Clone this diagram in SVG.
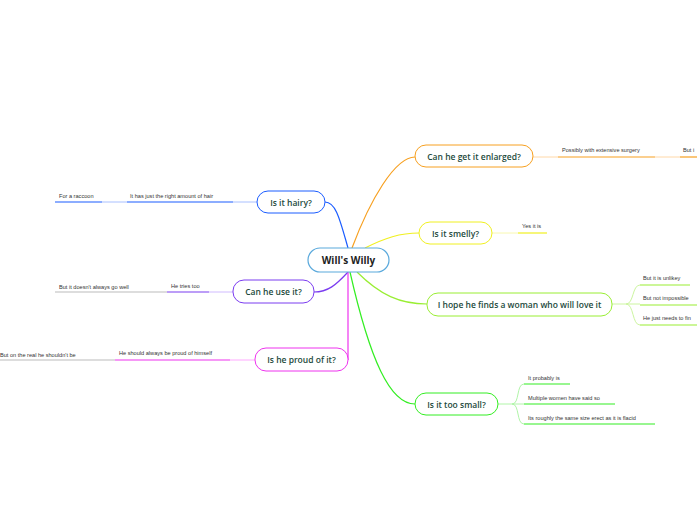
<svg xmlns="http://www.w3.org/2000/svg" width="697" height="520" viewBox="0 0 697 520">
<style>
.n{fill:#fff;stroke-width:1}
.t{font-family:"Open Sans","Noto Sans",sans-serif;font-size:8.5px;font-weight:600;fill:#1d4a3c;text-anchor:middle}
.s{font-family:"Liberation Sans",Arial,sans-serif;font-size:5.6px;fill:#333}
.c{fill:none;stroke-width:1.2}
</style>
<rect width="697" height="520" fill="#fff"/>
<g id="connectors">
<path class="c" d="M348,248 C340,220 336,202 325,202" stroke="#1a5cff"/>
<path class="c" d="M348,272 C336,285 328,292 314,292" stroke="#7b3cf0"/>
<path class="c" d="M348,272 L348,360" stroke="#ee33ee"/>
<path class="c" d="M352,248 C370,200 395,157 415,157" stroke="#f7a020"/>
<path class="c" d="M365,248 C385,238 400,233 419,233" stroke="#f0f020"/>
<path class="c" d="M357,272 C380,295 400,304 427,304" stroke="#99ee33"/>
<path class="c" d="M350,272 C370,360 390,404 415,404" stroke="#33ee22"/>
<!-- hairy -->
<path d="M257,202 H233" stroke="#a9c0ff" stroke-width="1"/>
<path d="M233,202 H127" stroke="#1a5cff" stroke-width="1.2"/>
<path d="M127,202 H102" stroke="#a9c0ff" stroke-width="1"/>
<path d="M102,202 H55" stroke="#1a5cff" stroke-width="1.2"/>
<!-- use -->
<path d="M233,292 H209" stroke="#d0bbff" stroke-width="1"/>
<path d="M209,292 H167" stroke="#7b3cf0" stroke-width="1.2"/>
<path d="M167,292 H55" stroke="#bbbbbb" stroke-width="1"/>
<!-- proud -->
<path d="M255,360 H230" stroke="#ffaaff" stroke-width="1"/>
<path d="M230,360 H115" stroke="#ee33ee" stroke-width="1.2"/>
<path d="M115,360 H0" stroke="#bbbbbb" stroke-width="1"/>
<!-- enlarged -->
<path d="M533,157 H558" stroke="#ffd8a8" stroke-width="1"/>
<path d="M558,157 H655" stroke="#f7a020" stroke-width="1.2"/>
<path d="M655,157 H680" stroke="#ffd8a8" stroke-width="1"/>
<path d="M680,157 H697" stroke="#f7a020" stroke-width="1.2"/>
<!-- smelly -->
<path d="M492,233 H518" stroke="#f8f8b0" stroke-width="1"/>
<path d="M518,233 H547" stroke="#f0f020" stroke-width="1.2"/>
<!-- hope -->
<path d="M612,304 H626 C634,304 632,285 640,285 M626,304 H640 M626,304 C634,304 632,325 640,325" stroke="#ccf5a0" stroke-width="1" fill="none"/>
<path d="M640,285 H690 M640,305 H697 M640,325 H697" stroke="#99ee33" stroke-width="1.2"/>
<!-- small -->
<path d="M498,404 H512 C520,404 516,384 524,384 M512,404 H524 M512,404 C520,404 516,424 524,424" stroke="#b0f5a8" stroke-width="1" fill="none"/>
<path d="M524,384 H570 M524,404 H615 M524,424 H655" stroke="#33ee22" stroke-width="1.2"/>
</g>
<g id="center"><rect x="308" y="248" width="81" height="24" rx="12" fill="#fff" stroke="#5aa9dc" stroke-width="1.2"/><text x="348.5" y="264" class="t" style="font-size:10px;font-weight:700;fill:#222">Will's Willy</text></g>
<g id="hairy"><rect class="n" x="257" y="191" width="68" height="22" rx="11" stroke="#1a5cff"/><text class="t" x="291" y="205.5">Is it hairy?</text></g>
<g id="use"><rect class="n" x="233" y="280" width="81" height="23" rx="11" stroke="#7b3cf0"/><text class="t" x="273.5" y="294.5">Can he use it?</text></g>
<g id="proud"><rect class="n" x="255" y="348" width="93" height="23" rx="11" stroke="#ee33ee"/><text class="t" x="301.5" y="362.5">Is he proud of it?</text></g>
<g id="enlarged"><rect class="n" x="415" y="145" width="118" height="22" rx="11" stroke="#f7a020"/><text class="t" x="474" y="159.5">Can he get it enlarged?</text></g>
<g id="smelly"><rect class="n" x="419" y="222" width="73" height="22" rx="11" stroke="#f0f020"/><text class="t" x="455.5" y="236.5">Is it smelly?</text></g>
<g id="hope"><rect class="n" x="427" y="293" width="185" height="23" rx="11" stroke="#99ee33"/><text class="t" x="519.5" y="307.5">I hope he finds a woman who will love it</text></g>
<g id="small"><rect class="n" x="415" y="393" width="83" height="22" rx="11" stroke="#33ee22"/><text class="t" x="456.5" y="407.5">Is it too small?</text></g>
<g id="labels">
<text class="s" x="130" y="198">It has just the right amount of hair</text>
<text class="s" x="59" y="198">For a raccoon</text>
<text class="s" x="171" y="288">He tries too</text>
<text class="s" x="59" y="289">But it doesn't always go well</text>
<text class="s" x="119" y="355">He should always be proud of himself</text>
<text class="s" x="0" y="357">But on the real he shouldn't be</text>
<text class="s" x="562" y="152">Possibly with extensive surgery</text>
<text class="s" x="683" y="152">But i</text>
<text class="s" x="522" y="228">Yes it is</text>
<text class="s" x="643" y="280">But it is unlikey</text>
<text class="s" x="643" y="300">But not impossible</text>
<text class="s" x="643" y="320">He just needs to fin</text>
<text class="s" x="528" y="380">It probably is</text>
<text class="s" x="528" y="400">Multiple women have said so</text>
<text class="s" x="528" y="420">Its roughly the same size erect as it is flacid</text>
</g>
</svg>
